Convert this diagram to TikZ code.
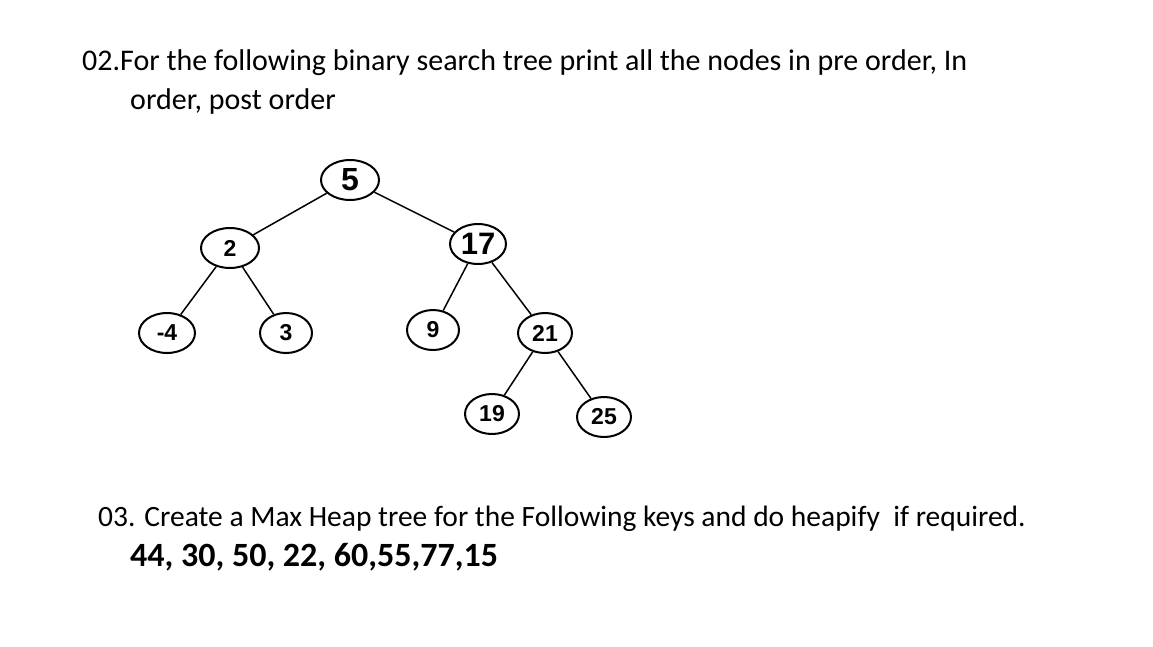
\documentclass[tikz,border=0pt]{standalone}
\usepackage{fontspec}
\setmainfont{Carlito}
\newfontfamily\arialf{Liberation Sans}
\usetikzlibrary{shapes.geometric}
\begin{document}
\begin{tikzpicture}[x=1pt,y=-1pt,
  tn/.style={draw,line width=2pt,ellipse,minimum width=52pt,minimum height=40pt,inner sep=0pt,font=\arialf\bfseries\fontsize{23}{23}\selectfont},
  ed/.style={line width=1.5pt},
  txt/.style={anchor=base west,inner sep=0pt,font=\fontsize{30}{30}\selectfont}]
\useasboundingbox (0,0) rectangle (1153,646);
\node[tn,minimum width=58pt,font=\arialf\bfseries\fontsize{32}{32}\selectfont] (n5) at (350,180) {5};
\node[tn,minimum width=58pt] (n2) at (230,248) {2};
\node[tn,minimum width=56pt,font=\arialf\bfseries\fontsize{31}{31}\selectfont] (n17) at (478,244) {17};
\node[tn,minimum width=56pt] (m4) at (167,333) {-4};
\node[tn] (n3) at (286,333) {3};
\node[tn] (n9) at (433,330) {9};
\node[tn,minimum width=54pt] (n21) at (545,333) {21};
\node[tn,minimum width=54pt] (n19) at (492,414) {19};
\node[tn,minimum width=54pt] (n25) at (604,417) {25};
\draw[ed] (n5) -- (n2);
\draw[ed] (n5) -- (n17);
\draw[ed] (n2) -- (m4);
\draw[ed] (n2) -- (n3);
\draw[ed] (n17) -- (n9);
\draw[ed] (n17) -- (n21);
\draw[ed] (n21) -- (n19);
\draw[ed] (n21) -- (n25);
\node[txt] (t1) at (82,70) {02.For the following binary search tree print all the nodes in pre order, In};
\node[txt] (t2) at (130,109) {order, post order};
\node[txt,font=\fontsize{29.5}{29.5}\selectfont] (t3) at (98,526) {03. Create a Max Heap tree for the Following keys and do heapify\ \ if required.};
\node[txt,font=\bfseries\fontsize{34}{34}\selectfont] (t4) at (130,566) {44, 30, 50, 22, 60,55,77,15};
\end{tikzpicture}
\end{document}
